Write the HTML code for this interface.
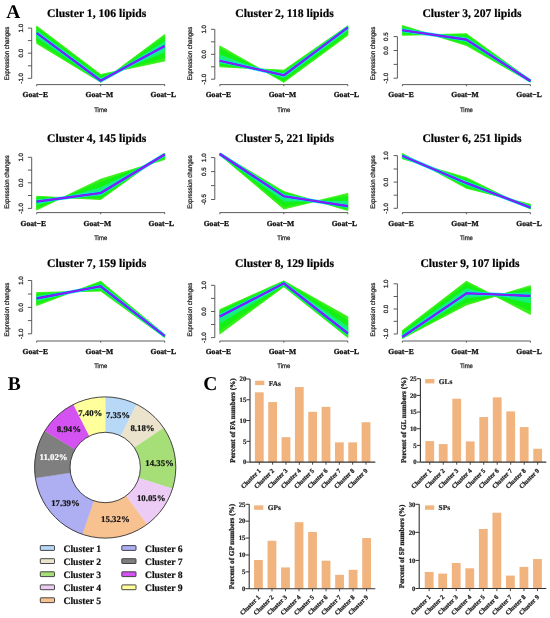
<!DOCTYPE html>
<html><head><meta charset="utf-8"><style>
html,body{margin:0;padding:0;background:#fff;}
svg{display:block;will-change:transform;} text{text-rendering:geometricPrecision;}
</style></head><body>
<svg width="550" height="618" viewBox="0 0 550 618">
<rect width="550" height="618" fill="#fff"/>
<text x="96.7" y="17" text-anchor="middle" font-family='"Liberation Serif", serif' font-weight="bold" font-size="11.7" stroke="#000" stroke-width="0.2">Cluster 1, 106 lipids</text>
<path d="M31.7 28.1V78.3" stroke="#4a4a4a" stroke-width="0.9" fill="none"/>
<path d="M27.9 28.1H31.7" stroke="#4a4a4a" stroke-width="0.9"/>
<text transform="translate(22.7,28.1) rotate(-90)" text-anchor="middle" font-family='"Liberation Sans", sans-serif' font-size="6.2" fill="#222" stroke="#222" stroke-width="0.25">1.0</text>
<path d="M27.9 40.6H31.7" stroke="#4a4a4a" stroke-width="0.9"/>
<path d="M27.9 53.2H31.7" stroke="#4a4a4a" stroke-width="0.9"/>
<text transform="translate(22.7,53.2) rotate(-90)" text-anchor="middle" font-family='"Liberation Sans", sans-serif' font-size="6.2" fill="#222" stroke="#222" stroke-width="0.25">0.0</text>
<path d="M27.9 65.8H31.7" stroke="#4a4a4a" stroke-width="0.9"/>
<path d="M27.9 78.3H31.7" stroke="#4a4a4a" stroke-width="0.9"/>
<text transform="translate(22.7,78.3) rotate(-90)" text-anchor="middle" font-family='"Liberation Sans", sans-serif' font-size="6.2" fill="#222" stroke="#222" stroke-width="0.25">-1.0</text>
<text transform="translate(9.3,53.5) rotate(-90)" text-anchor="middle" font-family='"Liberation Sans", sans-serif' font-size="6.5" textLength="53.7" lengthAdjust="spacingAndGlyphs" fill="#222" stroke="#222" stroke-width="0.25">Expression changes</text>
<path d="M36.7 84.6H164.7" stroke="#4a4a4a" stroke-width="0.9"/>
<path d="M36.7 84.6V86.2" stroke="#4a4a4a" stroke-width="0.9"/>
<path d="M100.7 84.6V86.2" stroke="#4a4a4a" stroke-width="0.9"/>
<path d="M164.7 84.6V86.2" stroke="#4a4a4a" stroke-width="0.9"/>
<text x="35.3" y="97.1" text-anchor="middle" font-family='"Liberation Serif", serif' font-weight="bold" font-size="7.6" fill="#111" stroke="#111" stroke-width="0.28">Goat&#8722;E</text>
<text x="99.3" y="97.1" text-anchor="middle" font-family='"Liberation Serif", serif' font-weight="bold" font-size="7.6" fill="#111" stroke="#111" stroke-width="0.28">Goat&#8722;M</text>
<text x="163.3" y="97.1" text-anchor="middle" font-family='"Liberation Serif", serif' font-weight="bold" font-size="7.6" fill="#111" stroke="#111" stroke-width="0.28">Goat&#8722;L</text>
<text x="100.7" y="112.2" text-anchor="middle" font-family='"Liberation Sans", sans-serif' font-size="6.5" textLength="13" lengthAdjust="spacingAndGlyphs" fill="#222" stroke="#222" stroke-width="0.25">Time</text>
<path d="M36.7 26.1 L100.7 74.5 L100.7 82.2 L36.7 43.5Z" fill="#38f018" stroke="#38f018" stroke-width="0.9" stroke-linejoin="round"/>
<path d="M100.7 74.5 L164.7 61 L164.7 34.5 L100.7 82.2Z" fill="#38f018" stroke="#38f018" stroke-width="0.9" stroke-linejoin="round"/>
<path d="M36.7 27.48 L100.7 75.74 L100.7 81.9 L36.7 41.4Z" fill="#14f014" stroke="#14f014" stroke-width="0.4" stroke-linejoin="round"/>
<path d="M100.7 75.74 L164.7 58 L164.7 36.8 L100.7 81.9Z" fill="#14f014" stroke="#14f014" stroke-width="0.4" stroke-linejoin="round"/>
<path d="M36.7 30.24 L100.7 78.22 L100.7 81.3 L36.7 37.2Z" fill="#18f07c" stroke="#18f07c" stroke-width="0.4" stroke-linejoin="round"/>
<path d="M100.7 78.22 L164.7 52 L164.7 41.4 L100.7 81.3Z" fill="#18f07c" stroke="#18f07c" stroke-width="0.4" stroke-linejoin="round"/>
<path d="M36.7 33 L100.7 80.7 L164.7 46" fill="none" stroke="#10e0f0" stroke-width="3.4" stroke-linejoin="round"/>
<path d="M36.7 33 L100.7 80.7 L164.7 46" fill="none" stroke="#2430ff" stroke-width="2.1" stroke-linejoin="round"/>
<path d="M36.7 33 L100.7 80.7 L164.7 46" fill="none" stroke="#9818f0" stroke-width="1.5" stroke-linejoin="round"/>
<text x="284.6" y="17" text-anchor="middle" font-family='"Liberation Serif", serif' font-weight="bold" font-size="11.7" stroke="#000" stroke-width="0.2">Cluster 2, 118 lipids</text>
<path d="M214.8 29.3V79.2" stroke="#4a4a4a" stroke-width="0.9" fill="none"/>
<path d="M211 29.3H214.8" stroke="#4a4a4a" stroke-width="0.9"/>
<text transform="translate(205.8,29.3) rotate(-90)" text-anchor="middle" font-family='"Liberation Sans", sans-serif' font-size="6.2" fill="#222" stroke="#222" stroke-width="0.25">1.0</text>
<path d="M211 41.8H214.8" stroke="#4a4a4a" stroke-width="0.9"/>
<path d="M211 54.3H214.8" stroke="#4a4a4a" stroke-width="0.9"/>
<text transform="translate(205.8,54.3) rotate(-90)" text-anchor="middle" font-family='"Liberation Sans", sans-serif' font-size="6.2" fill="#222" stroke="#222" stroke-width="0.25">0.0</text>
<path d="M211 66.8H214.8" stroke="#4a4a4a" stroke-width="0.9"/>
<path d="M211 79.2H214.8" stroke="#4a4a4a" stroke-width="0.9"/>
<text transform="translate(205.8,79.2) rotate(-90)" text-anchor="middle" font-family='"Liberation Sans", sans-serif' font-size="6.2" fill="#222" stroke="#222" stroke-width="0.25">-1.0</text>
<text transform="translate(192.4,53.5) rotate(-90)" text-anchor="middle" font-family='"Liberation Sans", sans-serif' font-size="6.5" textLength="53.7" lengthAdjust="spacingAndGlyphs" fill="#222" stroke="#222" stroke-width="0.25">Expression changes</text>
<path d="M219.8 84.6H347.8" stroke="#4a4a4a" stroke-width="0.9"/>
<path d="M219.8 84.6V86.2" stroke="#4a4a4a" stroke-width="0.9"/>
<path d="M283.8 84.6V86.2" stroke="#4a4a4a" stroke-width="0.9"/>
<path d="M347.8 84.6V86.2" stroke="#4a4a4a" stroke-width="0.9"/>
<text x="218.4" y="97.1" text-anchor="middle" font-family='"Liberation Serif", serif' font-weight="bold" font-size="7.6" fill="#111" stroke="#111" stroke-width="0.28">Goat&#8722;E</text>
<text x="282.4" y="97.1" text-anchor="middle" font-family='"Liberation Serif", serif' font-weight="bold" font-size="7.6" fill="#111" stroke="#111" stroke-width="0.28">Goat&#8722;M</text>
<text x="346.4" y="97.1" text-anchor="middle" font-family='"Liberation Serif", serif' font-weight="bold" font-size="7.6" fill="#111" stroke="#111" stroke-width="0.28">Goat&#8722;L</text>
<text x="283.8" y="112.2" text-anchor="middle" font-family='"Liberation Sans", sans-serif' font-size="6.5" textLength="13" lengthAdjust="spacingAndGlyphs" fill="#222" stroke="#222" stroke-width="0.25">Time</text>
<path d="M219.8 45.9 L283.8 82.3 L283.8 70.2 L219.8 66.8Z" fill="#38f018" stroke="#38f018" stroke-width="0.9" stroke-linejoin="round"/>
<path d="M283.8 82.3 L347.8 35.3 L347.8 25.8 L283.8 70.2Z" fill="#38f018" stroke="#38f018" stroke-width="0.9" stroke-linejoin="round"/>
<path d="M219.8 48.86 L283.8 80.9 L283.8 71.22 L219.8 65.58Z" fill="#14f014" stroke="#14f014" stroke-width="0.4" stroke-linejoin="round"/>
<path d="M283.8 80.9 L347.8 33.74 L347.8 26.14 L283.8 71.22Z" fill="#14f014" stroke="#14f014" stroke-width="0.4" stroke-linejoin="round"/>
<path d="M219.8 54.78 L283.8 78.1 L283.8 73.26 L219.8 63.14Z" fill="#18f07c" stroke="#18f07c" stroke-width="0.4" stroke-linejoin="round"/>
<path d="M283.8 78.1 L347.8 30.62 L347.8 26.82 L283.8 73.26Z" fill="#18f07c" stroke="#18f07c" stroke-width="0.4" stroke-linejoin="round"/>
<path d="M219.8 60.7 L283.8 75.3 L347.8 27.5" fill="none" stroke="#10e0f0" stroke-width="3.4" stroke-linejoin="round"/>
<path d="M219.8 60.7 L283.8 75.3 L347.8 27.5" fill="none" stroke="#2430ff" stroke-width="2.1" stroke-linejoin="round"/>
<path d="M219.8 60.7 L283.8 75.3 L347.8 27.5" fill="none" stroke="#9818f0" stroke-width="1.5" stroke-linejoin="round"/>
<text x="472" y="17" text-anchor="middle" font-family='"Liberation Serif", serif' font-weight="bold" font-size="11.7" stroke="#000" stroke-width="0.2">Cluster 3, 207 lipids</text>
<path d="M397.4 36.6V78.2" stroke="#4a4a4a" stroke-width="0.9" fill="none"/>
<path d="M393.6 36.6H397.4" stroke="#4a4a4a" stroke-width="0.9"/>
<text transform="translate(388.4,36.6) rotate(-90)" text-anchor="middle" font-family='"Liberation Sans", sans-serif' font-size="6.2" fill="#222" stroke="#222" stroke-width="0.25">0.5</text>
<path d="M393.6 50.5H397.4" stroke="#4a4a4a" stroke-width="0.9"/>
<text transform="translate(388.4,50.5) rotate(-90)" text-anchor="middle" font-family='"Liberation Sans", sans-serif' font-size="6.2" fill="#222" stroke="#222" stroke-width="0.25">0.0</text>
<path d="M393.6 64.4H397.4" stroke="#4a4a4a" stroke-width="0.9"/>
<path d="M393.6 78.2H397.4" stroke="#4a4a4a" stroke-width="0.9"/>
<text transform="translate(388.4,78.2) rotate(-90)" text-anchor="middle" font-family='"Liberation Sans", sans-serif' font-size="6.2" fill="#222" stroke="#222" stroke-width="0.25">-1.0</text>
<text transform="translate(375,53.5) rotate(-90)" text-anchor="middle" font-family='"Liberation Sans", sans-serif' font-size="6.5" textLength="53.7" lengthAdjust="spacingAndGlyphs" fill="#222" stroke="#222" stroke-width="0.25">Expression changes</text>
<path d="M402.4 84.6H530.4" stroke="#4a4a4a" stroke-width="0.9"/>
<path d="M402.4 84.6V86.2" stroke="#4a4a4a" stroke-width="0.9"/>
<path d="M466.4 84.6V86.2" stroke="#4a4a4a" stroke-width="0.9"/>
<path d="M530.4 84.6V86.2" stroke="#4a4a4a" stroke-width="0.9"/>
<text x="401" y="97.1" text-anchor="middle" font-family='"Liberation Serif", serif' font-weight="bold" font-size="7.6" fill="#111" stroke="#111" stroke-width="0.28">Goat&#8722;E</text>
<text x="465" y="97.1" text-anchor="middle" font-family='"Liberation Serif", serif' font-weight="bold" font-size="7.6" fill="#111" stroke="#111" stroke-width="0.28">Goat&#8722;M</text>
<text x="529" y="97.1" text-anchor="middle" font-family='"Liberation Serif", serif' font-weight="bold" font-size="7.6" fill="#111" stroke="#111" stroke-width="0.28">Goat&#8722;L</text>
<text x="466.4" y="112.2" text-anchor="middle" font-family='"Liberation Sans", sans-serif' font-size="6.5" textLength="13" lengthAdjust="spacingAndGlyphs" fill="#222" stroke="#222" stroke-width="0.25">Time</text>
<path d="M402.4 25.5 L466.4 45.5 L466.4 33.8 L402.4 35.3Z" fill="#38f018" stroke="#38f018" stroke-width="0.9" stroke-linejoin="round"/>
<path d="M466.4 45.5 L530.4 82 L530.4 80 L466.4 33.8Z" fill="#38f018" stroke="#38f018" stroke-width="0.9" stroke-linejoin="round"/>
<path d="M402.4 26.44 L466.4 44.32 L466.4 34.96 L402.4 34.28Z" fill="#14f014" stroke="#14f014" stroke-width="0.4" stroke-linejoin="round"/>
<path d="M466.4 44.32 L530.4 81.8 L530.4 80.2 L466.4 34.96Z" fill="#14f014" stroke="#14f014" stroke-width="0.4" stroke-linejoin="round"/>
<path d="M402.4 28.32 L466.4 41.96 L466.4 37.28 L402.4 32.24Z" fill="#18f07c" stroke="#18f07c" stroke-width="0.4" stroke-linejoin="round"/>
<path d="M466.4 41.96 L530.4 81.4 L530.4 80.6 L466.4 37.28Z" fill="#18f07c" stroke="#18f07c" stroke-width="0.4" stroke-linejoin="round"/>
<path d="M402.4 30.2 L466.4 39.6 L530.4 81" fill="none" stroke="#10e0f0" stroke-width="3.4" stroke-linejoin="round"/>
<path d="M402.4 30.2 L466.4 39.6 L530.4 81" fill="none" stroke="#2430ff" stroke-width="2.1" stroke-linejoin="round"/>
<path d="M402.4 30.2 L466.4 39.6 L530.4 81" fill="none" stroke="#9818f0" stroke-width="1.5" stroke-linejoin="round"/>
<text x="96.7" y="142" text-anchor="middle" font-family='"Liberation Serif", serif' font-weight="bold" font-size="11.7" stroke="#000" stroke-width="0.2">Cluster 4, 145 lipids</text>
<path d="M31.7 157.3V208.4" stroke="#4a4a4a" stroke-width="0.9" fill="none"/>
<path d="M27.9 157.3H31.7" stroke="#4a4a4a" stroke-width="0.9"/>
<text transform="translate(22.7,157.3) rotate(-90)" text-anchor="middle" font-family='"Liberation Sans", sans-serif' font-size="6.2" fill="#222" stroke="#222" stroke-width="0.25">1.0</text>
<path d="M27.9 170.1H31.7" stroke="#4a4a4a" stroke-width="0.9"/>
<path d="M27.9 182.8H31.7" stroke="#4a4a4a" stroke-width="0.9"/>
<text transform="translate(22.7,182.8) rotate(-90)" text-anchor="middle" font-family='"Liberation Sans", sans-serif' font-size="6.2" fill="#222" stroke="#222" stroke-width="0.25">0.0</text>
<path d="M27.9 195.5H31.7" stroke="#4a4a4a" stroke-width="0.9"/>
<path d="M27.9 208.4H31.7" stroke="#4a4a4a" stroke-width="0.9"/>
<text transform="translate(22.7,208.4) rotate(-90)" text-anchor="middle" font-family='"Liberation Sans", sans-serif' font-size="6.2" fill="#222" stroke="#222" stroke-width="0.25">-1.0</text>
<text transform="translate(9.3,182) rotate(-90)" text-anchor="middle" font-family='"Liberation Sans", sans-serif' font-size="6.5" textLength="53.7" lengthAdjust="spacingAndGlyphs" fill="#222" stroke="#222" stroke-width="0.25">Expression changes</text>
<path d="M36.7 212.6H164.7" stroke="#4a4a4a" stroke-width="0.9"/>
<path d="M36.7 212.6V214.2" stroke="#4a4a4a" stroke-width="0.9"/>
<path d="M100.7 212.6V214.2" stroke="#4a4a4a" stroke-width="0.9"/>
<path d="M164.7 212.6V214.2" stroke="#4a4a4a" stroke-width="0.9"/>
<text x="33.3" y="225.6" text-anchor="middle" font-family='"Liberation Serif", serif' font-weight="bold" font-size="7.6" fill="#111" stroke="#111" stroke-width="0.28">Goat&#8722;E</text>
<text x="97.3" y="225.6" text-anchor="middle" font-family='"Liberation Serif", serif' font-weight="bold" font-size="7.6" fill="#111" stroke="#111" stroke-width="0.28">Goat&#8722;M</text>
<text x="161.3" y="225.6" text-anchor="middle" font-family='"Liberation Serif", serif' font-weight="bold" font-size="7.6" fill="#111" stroke="#111" stroke-width="0.28">Goat&#8722;L</text>
<text x="100.7" y="240.1" text-anchor="middle" font-family='"Liberation Sans", sans-serif' font-size="6.5" textLength="13" lengthAdjust="spacingAndGlyphs" fill="#222" stroke="#222" stroke-width="0.25">Time</text>
<path d="M36.7 196.3 L100.7 199.5 L100.7 179.2 L36.7 209.9Z" fill="#38f018" stroke="#38f018" stroke-width="0.9" stroke-linejoin="round"/>
<path d="M100.7 199.5 L164.7 153.4 L164.7 159.5 L100.7 179.2Z" fill="#38f018" stroke="#38f018" stroke-width="0.9" stroke-linejoin="round"/>
<path d="M36.7 197.36 L100.7 198.2 L100.7 181.96 L36.7 208.24Z" fill="#14f014" stroke="#14f014" stroke-width="0.4" stroke-linejoin="round"/>
<path d="M100.7 198.2 L164.7 153.62 L164.7 158.5 L100.7 181.96Z" fill="#14f014" stroke="#14f014" stroke-width="0.4" stroke-linejoin="round"/>
<path d="M36.7 199.48 L100.7 195.6 L100.7 187.48 L36.7 204.92Z" fill="#18f07c" stroke="#18f07c" stroke-width="0.4" stroke-linejoin="round"/>
<path d="M100.7 195.6 L164.7 154.06 L164.7 156.5 L100.7 187.48Z" fill="#18f07c" stroke="#18f07c" stroke-width="0.4" stroke-linejoin="round"/>
<path d="M36.7 201.6 L100.7 193 L164.7 154.5" fill="none" stroke="#10e0f0" stroke-width="3.4" stroke-linejoin="round"/>
<path d="M36.7 201.6 L100.7 193 L164.7 154.5" fill="none" stroke="#2430ff" stroke-width="2.1" stroke-linejoin="round"/>
<path d="M36.7 201.6 L100.7 193 L164.7 154.5" fill="none" stroke="#9818f0" stroke-width="1.5" stroke-linejoin="round"/>
<text x="284.6" y="142" text-anchor="middle" font-family='"Liberation Serif", serif' font-weight="bold" font-size="11.7" stroke="#000" stroke-width="0.2">Cluster 5, 221 lipids</text>
<path d="M214.8 157.6V199.5" stroke="#4a4a4a" stroke-width="0.9" fill="none"/>
<path d="M211 157.6H214.8" stroke="#4a4a4a" stroke-width="0.9"/>
<text transform="translate(205.8,157.6) rotate(-90)" text-anchor="middle" font-family='"Liberation Sans", sans-serif' font-size="6.2" fill="#222" stroke="#222" stroke-width="0.25">1.0</text>
<path d="M211 171.6H214.8" stroke="#4a4a4a" stroke-width="0.9"/>
<text transform="translate(205.8,171.6) rotate(-90)" text-anchor="middle" font-family='"Liberation Sans", sans-serif' font-size="6.2" fill="#222" stroke="#222" stroke-width="0.25">0.5</text>
<path d="M211 185.6H214.8" stroke="#4a4a4a" stroke-width="0.9"/>
<path d="M211 199.5H214.8" stroke="#4a4a4a" stroke-width="0.9"/>
<text transform="translate(205.8,199.5) rotate(-90)" text-anchor="middle" font-family='"Liberation Sans", sans-serif' font-size="6.2" fill="#222" stroke="#222" stroke-width="0.25">-0.5</text>
<text transform="translate(192.4,182) rotate(-90)" text-anchor="middle" font-family='"Liberation Sans", sans-serif' font-size="6.5" textLength="53.7" lengthAdjust="spacingAndGlyphs" fill="#222" stroke="#222" stroke-width="0.25">Expression changes</text>
<path d="M219.8 212.6H347.8" stroke="#4a4a4a" stroke-width="0.9"/>
<path d="M219.8 212.6V214.2" stroke="#4a4a4a" stroke-width="0.9"/>
<path d="M283.8 212.6V214.2" stroke="#4a4a4a" stroke-width="0.9"/>
<path d="M347.8 212.6V214.2" stroke="#4a4a4a" stroke-width="0.9"/>
<text x="216.4" y="225.6" text-anchor="middle" font-family='"Liberation Serif", serif' font-weight="bold" font-size="7.6" fill="#111" stroke="#111" stroke-width="0.28">Goat&#8722;E</text>
<text x="280.4" y="225.6" text-anchor="middle" font-family='"Liberation Serif", serif' font-weight="bold" font-size="7.6" fill="#111" stroke="#111" stroke-width="0.28">Goat&#8722;M</text>
<text x="344.4" y="225.6" text-anchor="middle" font-family='"Liberation Serif", serif' font-weight="bold" font-size="7.6" fill="#111" stroke="#111" stroke-width="0.28">Goat&#8722;L</text>
<text x="283.8" y="240.1" text-anchor="middle" font-family='"Liberation Sans", sans-serif' font-size="6.5" textLength="13" lengthAdjust="spacingAndGlyphs" fill="#222" stroke="#222" stroke-width="0.25">Time</text>
<path d="M219.8 153.2 L283.8 191.5 L283.8 209 L219.8 155Z" fill="#38f018" stroke="#38f018" stroke-width="0.9" stroke-linejoin="round"/>
<path d="M283.8 191.5 L347.8 210.5 L347.8 193.4 L283.8 209Z" fill="#38f018" stroke="#38f018" stroke-width="0.9" stroke-linejoin="round"/>
<path d="M219.8 153.36 L283.8 192.44 L283.8 206.44 L219.8 154.8Z" fill="#14f014" stroke="#14f014" stroke-width="0.4" stroke-linejoin="round"/>
<path d="M283.8 192.44 L347.8 209.62 L347.8 195.94 L283.8 206.44Z" fill="#14f014" stroke="#14f014" stroke-width="0.4" stroke-linejoin="round"/>
<path d="M219.8 153.68 L283.8 194.32 L283.8 201.32 L219.8 154.4Z" fill="#18f07c" stroke="#18f07c" stroke-width="0.4" stroke-linejoin="round"/>
<path d="M283.8 194.32 L347.8 207.86 L347.8 201.02 L283.8 201.32Z" fill="#18f07c" stroke="#18f07c" stroke-width="0.4" stroke-linejoin="round"/>
<path d="M219.8 154 L283.8 196.2 L347.8 206.1" fill="none" stroke="#10e0f0" stroke-width="3.4" stroke-linejoin="round"/>
<path d="M219.8 154 L283.8 196.2 L347.8 206.1" fill="none" stroke="#2430ff" stroke-width="2.1" stroke-linejoin="round"/>
<path d="M219.8 154 L283.8 196.2 L347.8 206.1" fill="none" stroke="#9818f0" stroke-width="1.5" stroke-linejoin="round"/>
<text x="472" y="142" text-anchor="middle" font-family='"Liberation Serif", serif' font-weight="bold" font-size="11.7" stroke="#000" stroke-width="0.2">Cluster 6, 251 lipids</text>
<path d="M397.4 155.6V208.3" stroke="#4a4a4a" stroke-width="0.9" fill="none"/>
<path d="M393.6 155.6H397.4" stroke="#4a4a4a" stroke-width="0.9"/>
<text transform="translate(388.4,155.6) rotate(-90)" text-anchor="middle" font-family='"Liberation Sans", sans-serif' font-size="6.2" fill="#222" stroke="#222" stroke-width="0.25">1.0</text>
<path d="M393.6 169H397.4" stroke="#4a4a4a" stroke-width="0.9"/>
<path d="M393.6 182.1H397.4" stroke="#4a4a4a" stroke-width="0.9"/>
<text transform="translate(388.4,182.1) rotate(-90)" text-anchor="middle" font-family='"Liberation Sans", sans-serif' font-size="6.2" fill="#222" stroke="#222" stroke-width="0.25">0.0</text>
<path d="M393.6 195.2H397.4" stroke="#4a4a4a" stroke-width="0.9"/>
<path d="M393.6 208.3H397.4" stroke="#4a4a4a" stroke-width="0.9"/>
<text transform="translate(388.4,208.3) rotate(-90)" text-anchor="middle" font-family='"Liberation Sans", sans-serif' font-size="6.2" fill="#222" stroke="#222" stroke-width="0.25">-1.0</text>
<text transform="translate(375,182) rotate(-90)" text-anchor="middle" font-family='"Liberation Sans", sans-serif' font-size="6.5" textLength="53.7" lengthAdjust="spacingAndGlyphs" fill="#222" stroke="#222" stroke-width="0.25">Expression changes</text>
<path d="M402.4 212.6H530.4" stroke="#4a4a4a" stroke-width="0.9"/>
<path d="M402.4 212.6V214.2" stroke="#4a4a4a" stroke-width="0.9"/>
<path d="M466.4 212.6V214.2" stroke="#4a4a4a" stroke-width="0.9"/>
<path d="M530.4 212.6V214.2" stroke="#4a4a4a" stroke-width="0.9"/>
<text x="401" y="225.6" text-anchor="middle" font-family='"Liberation Serif", serif' font-weight="bold" font-size="7.6" fill="#111" stroke="#111" stroke-width="0.28">Goat&#8722;E</text>
<text x="465" y="225.6" text-anchor="middle" font-family='"Liberation Serif", serif' font-weight="bold" font-size="7.6" fill="#111" stroke="#111" stroke-width="0.28">Goat&#8722;M</text>
<text x="529" y="225.6" text-anchor="middle" font-family='"Liberation Serif", serif' font-weight="bold" font-size="7.6" fill="#111" stroke="#111" stroke-width="0.28">Goat&#8722;L</text>
<text x="466.4" y="240.1" text-anchor="middle" font-family='"Liberation Sans", sans-serif' font-size="6.5" textLength="13" lengthAdjust="spacingAndGlyphs" fill="#222" stroke="#222" stroke-width="0.25">Time</text>
<path d="M402.4 153.4 L466.4 188.3 L466.4 177.7 L402.4 158.8Z" fill="#38f018" stroke="#38f018" stroke-width="0.9" stroke-linejoin="round"/>
<path d="M466.4 188.3 L530.4 204.3 L530.4 209 L466.4 177.7Z" fill="#38f018" stroke="#38f018" stroke-width="0.9" stroke-linejoin="round"/>
<path d="M402.4 153.9 L466.4 187.26 L466.4 178.78 L402.4 158.22Z" fill="#14f014" stroke="#14f014" stroke-width="0.4" stroke-linejoin="round"/>
<path d="M466.4 187.26 L530.4 204.94 L530.4 208.7 L466.4 178.78Z" fill="#14f014" stroke="#14f014" stroke-width="0.4" stroke-linejoin="round"/>
<path d="M402.4 154.9 L466.4 185.18 L466.4 180.94 L402.4 157.06Z" fill="#18f07c" stroke="#18f07c" stroke-width="0.4" stroke-linejoin="round"/>
<path d="M466.4 185.18 L530.4 206.22 L530.4 208.1 L466.4 180.94Z" fill="#18f07c" stroke="#18f07c" stroke-width="0.4" stroke-linejoin="round"/>
<path d="M402.4 155.9 L466.4 183.1 L530.4 207.5" fill="none" stroke="#10e0f0" stroke-width="3.4" stroke-linejoin="round"/>
<path d="M402.4 155.9 L466.4 183.1 L530.4 207.5" fill="none" stroke="#2430ff" stroke-width="2.1" stroke-linejoin="round"/>
<path d="M402.4 155.9 L466.4 183.1 L530.4 207.5" fill="none" stroke="#9818f0" stroke-width="1.5" stroke-linejoin="round"/>
<text x="96.7" y="267" text-anchor="middle" font-family='"Liberation Serif", serif' font-weight="bold" font-size="11.7" stroke="#000" stroke-width="0.2">Cluster 7, 159 lipids</text>
<path d="M31.7 280.5V333.8" stroke="#4a4a4a" stroke-width="0.9" fill="none"/>
<path d="M27.9 280.5H31.7" stroke="#4a4a4a" stroke-width="0.9"/>
<text transform="translate(22.7,280.5) rotate(-90)" text-anchor="middle" font-family='"Liberation Sans", sans-serif' font-size="6.2" fill="#222" stroke="#222" stroke-width="0.25">1.0</text>
<path d="M27.9 294H31.7" stroke="#4a4a4a" stroke-width="0.9"/>
<path d="M27.9 307.4H31.7" stroke="#4a4a4a" stroke-width="0.9"/>
<text transform="translate(22.7,307.4) rotate(-90)" text-anchor="middle" font-family='"Liberation Sans", sans-serif' font-size="6.2" fill="#222" stroke="#222" stroke-width="0.25">0.0</text>
<path d="M27.9 320.6H31.7" stroke="#4a4a4a" stroke-width="0.9"/>
<path d="M27.9 333.8H31.7" stroke="#4a4a4a" stroke-width="0.9"/>
<text transform="translate(22.7,333.8) rotate(-90)" text-anchor="middle" font-family='"Liberation Sans", sans-serif' font-size="6.2" fill="#222" stroke="#222" stroke-width="0.25">-1.0</text>
<text transform="translate(9.3,309.6) rotate(-90)" text-anchor="middle" font-family='"Liberation Sans", sans-serif' font-size="6.5" textLength="53.7" lengthAdjust="spacingAndGlyphs" fill="#222" stroke="#222" stroke-width="0.25">Expression changes</text>
<path d="M36.7 341H164.7" stroke="#4a4a4a" stroke-width="0.9"/>
<path d="M36.7 341V342.6" stroke="#4a4a4a" stroke-width="0.9"/>
<path d="M100.7 341V342.6" stroke="#4a4a4a" stroke-width="0.9"/>
<path d="M164.7 341V342.6" stroke="#4a4a4a" stroke-width="0.9"/>
<text x="35.3" y="353.8" text-anchor="middle" font-family='"Liberation Serif", serif' font-weight="bold" font-size="7.6" fill="#111" stroke="#111" stroke-width="0.28">Goat&#8722;E</text>
<text x="99.3" y="353.8" text-anchor="middle" font-family='"Liberation Serif", serif' font-weight="bold" font-size="7.6" fill="#111" stroke="#111" stroke-width="0.28">Goat&#8722;M</text>
<text x="163.3" y="353.8" text-anchor="middle" font-family='"Liberation Serif", serif' font-weight="bold" font-size="7.6" fill="#111" stroke="#111" stroke-width="0.28">Goat&#8722;L</text>
<text x="100.7" y="368" text-anchor="middle" font-family='"Liberation Sans", sans-serif' font-size="6.5" textLength="13" lengthAdjust="spacingAndGlyphs" fill="#222" stroke="#222" stroke-width="0.25">Time</text>
<path d="M36.7 292.5 L100.7 291.1 L100.7 281.3 L36.7 305.6Z" fill="#38f018" stroke="#38f018" stroke-width="0.9" stroke-linejoin="round"/>
<path d="M100.7 291.1 L164.7 337.5 L164.7 334.5 L100.7 281.3Z" fill="#38f018" stroke="#38f018" stroke-width="0.9" stroke-linejoin="round"/>
<path d="M36.7 293.68 L100.7 290.14 L100.7 282.3 L36.7 304.16Z" fill="#14f014" stroke="#14f014" stroke-width="0.4" stroke-linejoin="round"/>
<path d="M100.7 290.14 L164.7 337.2 L164.7 334.8 L100.7 282.3Z" fill="#14f014" stroke="#14f014" stroke-width="0.4" stroke-linejoin="round"/>
<path d="M36.7 296.04 L100.7 288.22 L100.7 284.3 L36.7 301.28Z" fill="#18f07c" stroke="#18f07c" stroke-width="0.4" stroke-linejoin="round"/>
<path d="M100.7 288.22 L164.7 336.6 L164.7 335.4 L100.7 284.3Z" fill="#18f07c" stroke="#18f07c" stroke-width="0.4" stroke-linejoin="round"/>
<path d="M36.7 298.4 L100.7 286.3 L164.7 336" fill="none" stroke="#10e0f0" stroke-width="3.4" stroke-linejoin="round"/>
<path d="M36.7 298.4 L100.7 286.3 L164.7 336" fill="none" stroke="#2430ff" stroke-width="2.1" stroke-linejoin="round"/>
<path d="M36.7 298.4 L100.7 286.3 L164.7 336" fill="none" stroke="#9818f0" stroke-width="1.5" stroke-linejoin="round"/>
<text x="284.6" y="267" text-anchor="middle" font-family='"Liberation Serif", serif' font-weight="bold" font-size="11.7" stroke="#000" stroke-width="0.2">Cluster 8, 129 lipids</text>
<path d="M214.8 285.3V337.6" stroke="#4a4a4a" stroke-width="0.9" fill="none"/>
<path d="M211 285.3H214.8" stroke="#4a4a4a" stroke-width="0.9"/>
<text transform="translate(205.8,285.3) rotate(-90)" text-anchor="middle" font-family='"Liberation Sans", sans-serif' font-size="6.2" fill="#222" stroke="#222" stroke-width="0.25">1.0</text>
<path d="M211 298.4H214.8" stroke="#4a4a4a" stroke-width="0.9"/>
<path d="M211 311.5H214.8" stroke="#4a4a4a" stroke-width="0.9"/>
<text transform="translate(205.8,311.5) rotate(-90)" text-anchor="middle" font-family='"Liberation Sans", sans-serif' font-size="6.2" fill="#222" stroke="#222" stroke-width="0.25">0.0</text>
<path d="M211 324.5H214.8" stroke="#4a4a4a" stroke-width="0.9"/>
<path d="M211 337.6H214.8" stroke="#4a4a4a" stroke-width="0.9"/>
<text transform="translate(205.8,337.6) rotate(-90)" text-anchor="middle" font-family='"Liberation Sans", sans-serif' font-size="6.2" fill="#222" stroke="#222" stroke-width="0.25">-1.0</text>
<text transform="translate(192.4,309.6) rotate(-90)" text-anchor="middle" font-family='"Liberation Sans", sans-serif' font-size="6.5" textLength="53.7" lengthAdjust="spacingAndGlyphs" fill="#222" stroke="#222" stroke-width="0.25">Expression changes</text>
<path d="M219.8 341H347.8" stroke="#4a4a4a" stroke-width="0.9"/>
<path d="M219.8 341V342.6" stroke="#4a4a4a" stroke-width="0.9"/>
<path d="M283.8 341V342.6" stroke="#4a4a4a" stroke-width="0.9"/>
<path d="M347.8 341V342.6" stroke="#4a4a4a" stroke-width="0.9"/>
<text x="218.4" y="353.8" text-anchor="middle" font-family='"Liberation Serif", serif' font-weight="bold" font-size="7.6" fill="#111" stroke="#111" stroke-width="0.28">Goat&#8722;E</text>
<text x="282.4" y="353.8" text-anchor="middle" font-family='"Liberation Serif", serif' font-weight="bold" font-size="7.6" fill="#111" stroke="#111" stroke-width="0.28">Goat&#8722;M</text>
<text x="346.4" y="353.8" text-anchor="middle" font-family='"Liberation Serif", serif' font-weight="bold" font-size="7.6" fill="#111" stroke="#111" stroke-width="0.28">Goat&#8722;L</text>
<text x="283.8" y="368" text-anchor="middle" font-family='"Liberation Sans", sans-serif' font-size="6.5" textLength="13" lengthAdjust="spacingAndGlyphs" fill="#222" stroke="#222" stroke-width="0.25">Time</text>
<path d="M219.8 309.6 L283.8 280.9 L283.8 286.7 L219.8 334Z" fill="#38f018" stroke="#38f018" stroke-width="0.9" stroke-linejoin="round"/>
<path d="M283.8 280.9 L347.8 316.8 L347.8 337.6 L283.8 286.7Z" fill="#38f018" stroke="#38f018" stroke-width="0.9" stroke-linejoin="round"/>
<path d="M219.8 310.98 L283.8 281.4 L283.8 286.04 L219.8 330.5Z" fill="#14f014" stroke="#14f014" stroke-width="0.4" stroke-linejoin="round"/>
<path d="M283.8 281.4 L347.8 320.1 L347.8 336.74 L283.8 286.04Z" fill="#14f014" stroke="#14f014" stroke-width="0.4" stroke-linejoin="round"/>
<path d="M219.8 313.74 L283.8 282.4 L283.8 284.72 L219.8 323.5Z" fill="#18f07c" stroke="#18f07c" stroke-width="0.4" stroke-linejoin="round"/>
<path d="M283.8 282.4 L347.8 326.7 L347.8 335.02 L283.8 284.72Z" fill="#18f07c" stroke="#18f07c" stroke-width="0.4" stroke-linejoin="round"/>
<path d="M219.8 316.5 L283.8 283.4 L347.8 333.3" fill="none" stroke="#10e0f0" stroke-width="3.4" stroke-linejoin="round"/>
<path d="M219.8 316.5 L283.8 283.4 L347.8 333.3" fill="none" stroke="#2430ff" stroke-width="2.1" stroke-linejoin="round"/>
<path d="M219.8 316.5 L283.8 283.4 L347.8 333.3" fill="none" stroke="#9818f0" stroke-width="1.5" stroke-linejoin="round"/>
<text x="470" y="267" text-anchor="middle" font-family='"Liberation Serif", serif' font-weight="bold" font-size="11.7" stroke="#000" stroke-width="0.2">Cluster 9, 107 lipids</text>
<path d="M397.4 283.8V334" stroke="#4a4a4a" stroke-width="0.9" fill="none"/>
<path d="M393.6 283.8H397.4" stroke="#4a4a4a" stroke-width="0.9"/>
<text transform="translate(388.4,283.8) rotate(-90)" text-anchor="middle" font-family='"Liberation Sans", sans-serif' font-size="6.2" fill="#222" stroke="#222" stroke-width="0.25">1.0</text>
<path d="M393.6 296.5H397.4" stroke="#4a4a4a" stroke-width="0.9"/>
<path d="M393.6 309H397.4" stroke="#4a4a4a" stroke-width="0.9"/>
<text transform="translate(388.4,309) rotate(-90)" text-anchor="middle" font-family='"Liberation Sans", sans-serif' font-size="6.2" fill="#222" stroke="#222" stroke-width="0.25">0.0</text>
<path d="M393.6 321.3H397.4" stroke="#4a4a4a" stroke-width="0.9"/>
<path d="M393.6 334H397.4" stroke="#4a4a4a" stroke-width="0.9"/>
<text transform="translate(388.4,334) rotate(-90)" text-anchor="middle" font-family='"Liberation Sans", sans-serif' font-size="6.2" fill="#222" stroke="#222" stroke-width="0.25">-1.0</text>
<text transform="translate(375,309.6) rotate(-90)" text-anchor="middle" font-family='"Liberation Sans", sans-serif' font-size="6.5" textLength="53.7" lengthAdjust="spacingAndGlyphs" fill="#222" stroke="#222" stroke-width="0.25">Expression changes</text>
<path d="M402.4 341H530.4" stroke="#4a4a4a" stroke-width="0.9"/>
<path d="M402.4 341V342.6" stroke="#4a4a4a" stroke-width="0.9"/>
<path d="M466.4 341V342.6" stroke="#4a4a4a" stroke-width="0.9"/>
<path d="M530.4 341V342.6" stroke="#4a4a4a" stroke-width="0.9"/>
<text x="401" y="353.8" text-anchor="middle" font-family='"Liberation Serif", serif' font-weight="bold" font-size="7.6" fill="#111" stroke="#111" stroke-width="0.28">Goat&#8722;E</text>
<text x="465" y="353.8" text-anchor="middle" font-family='"Liberation Serif", serif' font-weight="bold" font-size="7.6" fill="#111" stroke="#111" stroke-width="0.28">Goat&#8722;M</text>
<text x="529" y="353.8" text-anchor="middle" font-family='"Liberation Serif", serif' font-weight="bold" font-size="7.6" fill="#111" stroke="#111" stroke-width="0.28">Goat&#8722;L</text>
<text x="466.4" y="368" text-anchor="middle" font-family='"Liberation Sans", sans-serif' font-size="6.5" textLength="13" lengthAdjust="spacingAndGlyphs" fill="#222" stroke="#222" stroke-width="0.25">Time</text>
<path d="M402.4 330.4 L466.4 281.3 L466.4 304.9 L402.4 338.4Z" fill="#38f018" stroke="#38f018" stroke-width="0.9" stroke-linejoin="round"/>
<path d="M466.4 281.3 L530.4 314.4 L530.4 285.7 L466.4 304.9Z" fill="#38f018" stroke="#38f018" stroke-width="0.9" stroke-linejoin="round"/>
<path d="M402.4 331.7 L466.4 283.7 L466.4 302.58 L402.4 338.1Z" fill="#14f014" stroke="#14f014" stroke-width="0.4" stroke-linejoin="round"/>
<path d="M466.4 283.7 L530.4 310.7 L530.4 287.74 L466.4 302.58Z" fill="#14f014" stroke="#14f014" stroke-width="0.4" stroke-linejoin="round"/>
<path d="M402.4 334.3 L466.4 288.5 L466.4 297.94 L402.4 337.5Z" fill="#18f07c" stroke="#18f07c" stroke-width="0.4" stroke-linejoin="round"/>
<path d="M466.4 288.5 L530.4 303.3 L530.4 291.82 L466.4 297.94Z" fill="#18f07c" stroke="#18f07c" stroke-width="0.4" stroke-linejoin="round"/>
<path d="M402.4 336.9 L466.4 293.3 L530.4 295.9" fill="none" stroke="#10e0f0" stroke-width="3.4" stroke-linejoin="round"/>
<path d="M402.4 336.9 L466.4 293.3 L530.4 295.9" fill="none" stroke="#2430ff" stroke-width="2.1" stroke-linejoin="round"/>
<path d="M402.4 336.9 L466.4 293.3 L530.4 295.9" fill="none" stroke="#9818f0" stroke-width="1.5" stroke-linejoin="round"/>
<text x="6.3" y="18.2" font-family='"Liberation Serif", serif' font-weight="bold" font-size="19.5">A</text>
<text x="7.8" y="390.2" font-family='"Liberation Serif", serif' font-weight="bold" font-size="19.5">B</text>
<text x="203.2" y="390.4" font-family='"Liberation Serif", serif' font-weight="bold" font-size="19.5">C</text>
<path d="M105.2 396.9 A70.6 70.6 0 0 1 136.66 404.3 L120.88 435.99 A35.2 35.2 0 0 0 105.2 432.3Z" fill="#b8d8f8" stroke="#b8d8f8" stroke-width="0.3"/>
<path d="M136.66 404.3 A70.6 70.6 0 0 1 163.67 427.93 L134.35 447.77 A35.2 35.2 0 0 0 120.88 435.99Z" fill="#ebe3cc" stroke="#ebe3cc" stroke-width="0.3"/>
<path d="M163.67 427.93 A70.6 70.6 0 0 1 172.51 488.81 L138.76 478.12 A35.2 35.2 0 0 0 134.35 447.77Z" fill="#a6de78" stroke="#a6de78" stroke-width="0.3"/>
<path d="M172.51 488.81 A70.6 70.6 0 0 1 146.95 524.43 L126.02 495.89 A35.2 35.2 0 0 0 138.76 478.12Z" fill="#ecccf4" stroke="#ecccf4" stroke-width="0.3"/>
<path d="M146.95 524.43 A70.6 70.6 0 0 1 82.33 534.29 L93.8 500.8 A35.2 35.2 0 0 0 126.02 495.89Z" fill="#f8c290" stroke="#f8c290" stroke-width="0.3"/>
<path d="M82.33 534.29 A70.6 70.6 0 0 1 35.37 477.93 L70.39 472.7 A35.2 35.2 0 0 0 93.8 500.8Z" fill="#aeaef2" stroke="#aeaef2" stroke-width="0.3"/>
<path d="M35.37 477.93 A70.6 70.6 0 0 1 44.8 430.95 L75.08 449.28 A35.2 35.2 0 0 0 70.39 472.7Z" fill="#7f7f7f" stroke="#7f7f7f" stroke-width="0.3"/>
<path d="M44.8 430.95 A70.6 70.6 0 0 1 73.54 404.39 L89.42 436.04 A35.2 35.2 0 0 0 75.08 449.28Z" fill="#d452f2" stroke="#d452f2" stroke-width="0.3"/>
<path d="M73.54 404.39 A70.6 70.6 0 0 1 105.2 396.9 L105.2 432.3 A35.2 35.2 0 0 0 89.42 436.04Z" fill="#ffff9c" stroke="#ffff9c" stroke-width="0.3"/>
<circle cx="105.2" cy="467.5" r="70.6" fill="none" stroke="#333" stroke-width="0.9"/>
<circle cx="105.2" cy="467.5" r="35.2" fill="none" stroke="#333" stroke-width="0.9"/>
<text x="118" y="418.1" text-anchor="middle" font-family='"Liberation Serif", serif' font-weight="bold" font-size="8.8" fill="#111" stroke="#111" stroke-width="0.2">7.35%</text>
<text x="142.5" y="431.2" text-anchor="middle" font-family='"Liberation Serif", serif' font-weight="bold" font-size="8.8" fill="#111" stroke="#111" stroke-width="0.2">8.18%</text>
<text x="159.6" y="465.6" text-anchor="middle" font-family='"Liberation Serif", serif' font-weight="bold" font-size="8.8" fill="#111" stroke="#111" stroke-width="0.2">14.35%</text>
<text x="151.2" y="500.7" text-anchor="middle" font-family='"Liberation Serif", serif' font-weight="bold" font-size="8.8" fill="#111" stroke="#111" stroke-width="0.2">10.05%</text>
<text x="115.4" y="521.6" text-anchor="middle" font-family='"Liberation Serif", serif' font-weight="bold" font-size="8.8" fill="#111" stroke="#111" stroke-width="0.2">15.32%</text>
<text x="65.5" y="506.3" text-anchor="middle" font-family='"Liberation Serif", serif' font-weight="bold" font-size="8.8" fill="#111" stroke="#111" stroke-width="0.2">17.39%</text>
<text x="53.6" y="459.6" text-anchor="middle" font-family='"Liberation Serif", serif' font-weight="bold" font-size="8.8" fill="#fff" stroke="#fff" stroke-width="0.2">11.02%</text>
<text x="68.9" y="431.6" text-anchor="middle" font-family='"Liberation Serif", serif' font-weight="bold" font-size="8.8" fill="#111" stroke="#111" stroke-width="0.2">8.94%</text>
<text x="90.3" y="416.2" text-anchor="middle" font-family='"Liberation Serif", serif' font-weight="bold" font-size="8.8" fill="#111" stroke="#111" stroke-width="0.2">7.40%</text>
<rect x="40.3" y="545.6" width="14.2" height="4.8" rx="0.6" fill="#b8d8f8" stroke="#333" stroke-width="0.9"/>
<text x="63.4" y="551.6" font-family='"Liberation Serif", serif' font-weight="bold" font-size="9.7" fill="#111" stroke="#111" stroke-width="0.2">Cluster 1</text>
<rect x="40.3" y="558.7" width="14.2" height="4.8" rx="0.6" fill="#ebe3cc" stroke="#333" stroke-width="0.9"/>
<text x="63.4" y="564.7" font-family='"Liberation Serif", serif' font-weight="bold" font-size="9.7" fill="#111" stroke="#111" stroke-width="0.2">Cluster 2</text>
<rect x="40.3" y="571.8" width="14.2" height="4.8" rx="0.6" fill="#a6de78" stroke="#333" stroke-width="0.9"/>
<text x="63.4" y="577.8" font-family='"Liberation Serif", serif' font-weight="bold" font-size="9.7" fill="#111" stroke="#111" stroke-width="0.2">Cluster 3</text>
<rect x="40.3" y="584.9" width="14.2" height="4.8" rx="0.6" fill="#ecccf4" stroke="#333" stroke-width="0.9"/>
<text x="63.4" y="590.9" font-family='"Liberation Serif", serif' font-weight="bold" font-size="9.7" fill="#111" stroke="#111" stroke-width="0.2">Cluster 4</text>
<rect x="40.3" y="597.8" width="14.2" height="4.8" rx="0.6" fill="#f8c290" stroke="#333" stroke-width="0.9"/>
<text x="63.4" y="603.8" font-family='"Liberation Serif", serif' font-weight="bold" font-size="9.7" fill="#111" stroke="#111" stroke-width="0.2">Cluster 5</text>
<rect x="121.8" y="545.6" width="14.2" height="4.8" rx="0.6" fill="#aeaef2" stroke="#333" stroke-width="0.9"/>
<text x="144.9" y="551.6" font-family='"Liberation Serif", serif' font-weight="bold" font-size="9.7" fill="#111" stroke="#111" stroke-width="0.2">Cluster 6</text>
<rect x="121.8" y="558.7" width="14.2" height="4.8" rx="0.6" fill="#7f7f7f" stroke="#333" stroke-width="0.9"/>
<text x="144.9" y="564.7" font-family='"Liberation Serif", serif' font-weight="bold" font-size="9.7" fill="#111" stroke="#111" stroke-width="0.2">Cluster 7</text>
<rect x="121.8" y="571.8" width="14.2" height="4.8" rx="0.6" fill="#d452f2" stroke="#333" stroke-width="0.9"/>
<text x="144.9" y="577.8" font-family='"Liberation Serif", serif' font-weight="bold" font-size="9.7" fill="#111" stroke="#111" stroke-width="0.2">Cluster 8</text>
<rect x="121.8" y="584.9" width="14.2" height="4.8" rx="0.6" fill="#ffff9c" stroke="#333" stroke-width="0.9"/>
<text x="144.9" y="590.9" font-family='"Liberation Serif", serif' font-weight="bold" font-size="9.7" fill="#111" stroke="#111" stroke-width="0.2">Cluster 9</text>
<rect x="254.9" y="392.3" width="8.8" height="69.8" fill="#f1b47f"/>
<rect x="268.24" y="402.06" width="8.8" height="60.04" fill="#f1b47f"/>
<rect x="281.58" y="437.17" width="8.8" height="24.93" fill="#f1b47f"/>
<rect x="294.92" y="387.06" width="8.8" height="75.04" fill="#f1b47f"/>
<rect x="308.26" y="411.82" width="8.8" height="50.28" fill="#f1b47f"/>
<rect x="321.6" y="406.84" width="8.8" height="55.26" fill="#f1b47f"/>
<rect x="334.94" y="442.36" width="8.8" height="19.74" fill="#f1b47f"/>
<rect x="348.28" y="442.36" width="8.8" height="19.74" fill="#f1b47f"/>
<rect x="361.62" y="422.21" width="8.8" height="39.89" fill="#f1b47f"/>
<path d="M250 379V462.1" stroke="#333" stroke-width="1.1" fill="none"/>
<path d="M246.4 462.1H250" stroke="#333" stroke-width="1.0"/>
<text x="246.3" y="464.4" text-anchor="end" font-family='"Liberation Serif", serif' font-weight="bold" font-size="6.8" fill="#222" stroke="#222" stroke-width="0.2">0</text>
<path d="M246.4 441.33H250" stroke="#333" stroke-width="1.0"/>
<text x="246.3" y="443.63" text-anchor="end" font-family='"Liberation Serif", serif' font-weight="bold" font-size="6.8" fill="#222" stroke="#222" stroke-width="0.2">5</text>
<path d="M246.4 420.55H250" stroke="#333" stroke-width="1.0"/>
<text x="246.3" y="422.85" text-anchor="end" font-family='"Liberation Serif", serif' font-weight="bold" font-size="6.8" fill="#222" stroke="#222" stroke-width="0.2">10</text>
<path d="M246.4 399.77H250" stroke="#333" stroke-width="1.0"/>
<text x="246.3" y="402.07" text-anchor="end" font-family='"Liberation Serif", serif' font-weight="bold" font-size="6.8" fill="#222" stroke="#222" stroke-width="0.2">15</text>
<path d="M246.4 379H250" stroke="#333" stroke-width="1.0"/>
<text x="246.3" y="381.3" text-anchor="end" font-family='"Liberation Serif", serif' font-weight="bold" font-size="6.8" fill="#222" stroke="#222" stroke-width="0.2">20</text>
<path d="M250 462.1H375.3" stroke="#333" stroke-width="1.1"/>
<path d="M259.3 462.1V464.7" stroke="#333" stroke-width="0.9"/>
<text transform="translate(261.3,471.1) rotate(-45)" text-anchor="end" font-family='"Liberation Serif", serif' font-weight="bold" font-size="6.5" fill="#222" stroke="#222" stroke-width="0.25">Cluster 1</text>
<path d="M272.64 462.1V464.7" stroke="#333" stroke-width="0.9"/>
<text transform="translate(274.64,471.1) rotate(-45)" text-anchor="end" font-family='"Liberation Serif", serif' font-weight="bold" font-size="6.5" fill="#222" stroke="#222" stroke-width="0.25">Cluster 2</text>
<path d="M285.98 462.1V464.7" stroke="#333" stroke-width="0.9"/>
<text transform="translate(287.98,471.1) rotate(-45)" text-anchor="end" font-family='"Liberation Serif", serif' font-weight="bold" font-size="6.5" fill="#222" stroke="#222" stroke-width="0.25">Cluster 3</text>
<path d="M299.32 462.1V464.7" stroke="#333" stroke-width="0.9"/>
<text transform="translate(301.32,471.1) rotate(-45)" text-anchor="end" font-family='"Liberation Serif", serif' font-weight="bold" font-size="6.5" fill="#222" stroke="#222" stroke-width="0.25">Cluster 4</text>
<path d="M312.66 462.1V464.7" stroke="#333" stroke-width="0.9"/>
<text transform="translate(314.66,471.1) rotate(-45)" text-anchor="end" font-family='"Liberation Serif", serif' font-weight="bold" font-size="6.5" fill="#222" stroke="#222" stroke-width="0.25">Cluster 5</text>
<path d="M326 462.1V464.7" stroke="#333" stroke-width="0.9"/>
<text transform="translate(328,471.1) rotate(-45)" text-anchor="end" font-family='"Liberation Serif", serif' font-weight="bold" font-size="6.5" fill="#222" stroke="#222" stroke-width="0.25">Cluster 6</text>
<path d="M339.34 462.1V464.7" stroke="#333" stroke-width="0.9"/>
<text transform="translate(341.34,471.1) rotate(-45)" text-anchor="end" font-family='"Liberation Serif", serif' font-weight="bold" font-size="6.5" fill="#222" stroke="#222" stroke-width="0.25">Cluster 7</text>
<path d="M352.68 462.1V464.7" stroke="#333" stroke-width="0.9"/>
<text transform="translate(354.68,471.1) rotate(-45)" text-anchor="end" font-family='"Liberation Serif", serif' font-weight="bold" font-size="6.5" fill="#222" stroke="#222" stroke-width="0.25">Cluster 8</text>
<path d="M366.02 462.1V464.7" stroke="#333" stroke-width="0.9"/>
<text transform="translate(368.02,471.1) rotate(-45)" text-anchor="end" font-family='"Liberation Serif", serif' font-weight="bold" font-size="6.5" fill="#222" stroke="#222" stroke-width="0.25">Cluster 9</text>
<text transform="translate(235.2,420.5) rotate(-90)" text-anchor="middle" font-family='"Liberation Serif", serif' font-weight="bold" font-size="7.2" fill="#222" stroke="#222" stroke-width="0.3">Percent of FA numbers (%)</text>
<rect x="255.1" y="380.7" width="9.2" height="4.4" fill="#f1b47f"/>
<text x="268.7" y="385.7" font-family='"Liberation Serif", serif' font-weight="bold" font-size="7.4" fill="#222" stroke="#222" stroke-width="0.2">FAs</text>
<rect x="425.35" y="441.08" width="8.8" height="21.02" fill="#f1b47f"/>
<rect x="438.84" y="444.09" width="8.8" height="18.01" fill="#f1b47f"/>
<rect x="452.33" y="398.72" width="8.8" height="63.38" fill="#f1b47f"/>
<rect x="465.82" y="441.42" width="8.8" height="20.68" fill="#f1b47f"/>
<rect x="479.31" y="417.06" width="8.8" height="45.04" fill="#f1b47f"/>
<rect x="492.8" y="397.38" width="8.8" height="64.72" fill="#f1b47f"/>
<rect x="506.29" y="411.39" width="8.8" height="50.71" fill="#f1b47f"/>
<rect x="519.78" y="427.07" width="8.8" height="35.03" fill="#f1b47f"/>
<rect x="533.27" y="448.76" width="8.8" height="13.34" fill="#f1b47f"/>
<path d="M420.4 378.7V462.1" stroke="#333" stroke-width="1.1" fill="none"/>
<path d="M416.8 462.1H420.4" stroke="#333" stroke-width="1.0"/>
<text x="416.7" y="464.4" text-anchor="end" font-family='"Liberation Serif", serif' font-weight="bold" font-size="6.8" fill="#222" stroke="#222" stroke-width="0.2">0</text>
<path d="M416.8 445.42H420.4" stroke="#333" stroke-width="1.0"/>
<text x="416.7" y="447.72" text-anchor="end" font-family='"Liberation Serif", serif' font-weight="bold" font-size="6.8" fill="#222" stroke="#222" stroke-width="0.2">5</text>
<path d="M416.8 428.74H420.4" stroke="#333" stroke-width="1.0"/>
<text x="416.7" y="431.04" text-anchor="end" font-family='"Liberation Serif", serif' font-weight="bold" font-size="6.8" fill="#222" stroke="#222" stroke-width="0.2">10</text>
<path d="M416.8 412.06H420.4" stroke="#333" stroke-width="1.0"/>
<text x="416.7" y="414.36" text-anchor="end" font-family='"Liberation Serif", serif' font-weight="bold" font-size="6.8" fill="#222" stroke="#222" stroke-width="0.2">15</text>
<path d="M416.8 395.38H420.4" stroke="#333" stroke-width="1.0"/>
<text x="416.7" y="397.68" text-anchor="end" font-family='"Liberation Serif", serif' font-weight="bold" font-size="6.8" fill="#222" stroke="#222" stroke-width="0.2">20</text>
<path d="M416.8 378.7H420.4" stroke="#333" stroke-width="1.0"/>
<text x="416.7" y="381" text-anchor="end" font-family='"Liberation Serif", serif' font-weight="bold" font-size="6.8" fill="#222" stroke="#222" stroke-width="0.2">25</text>
<path d="M420.4 462.1H546.3" stroke="#333" stroke-width="1.1"/>
<path d="M429.75 462.1V464.7" stroke="#333" stroke-width="0.9"/>
<text transform="translate(431.75,471.1) rotate(-45)" text-anchor="end" font-family='"Liberation Serif", serif' font-weight="bold" font-size="6.5" fill="#222" stroke="#222" stroke-width="0.25">Cluster 1</text>
<path d="M443.24 462.1V464.7" stroke="#333" stroke-width="0.9"/>
<text transform="translate(445.24,471.1) rotate(-45)" text-anchor="end" font-family='"Liberation Serif", serif' font-weight="bold" font-size="6.5" fill="#222" stroke="#222" stroke-width="0.25">Cluster 2</text>
<path d="M456.73 462.1V464.7" stroke="#333" stroke-width="0.9"/>
<text transform="translate(458.73,471.1) rotate(-45)" text-anchor="end" font-family='"Liberation Serif", serif' font-weight="bold" font-size="6.5" fill="#222" stroke="#222" stroke-width="0.25">Cluster 3</text>
<path d="M470.22 462.1V464.7" stroke="#333" stroke-width="0.9"/>
<text transform="translate(472.22,471.1) rotate(-45)" text-anchor="end" font-family='"Liberation Serif", serif' font-weight="bold" font-size="6.5" fill="#222" stroke="#222" stroke-width="0.25">Cluster 4</text>
<path d="M483.71 462.1V464.7" stroke="#333" stroke-width="0.9"/>
<text transform="translate(485.71,471.1) rotate(-45)" text-anchor="end" font-family='"Liberation Serif", serif' font-weight="bold" font-size="6.5" fill="#222" stroke="#222" stroke-width="0.25">Cluster 5</text>
<path d="M497.2 462.1V464.7" stroke="#333" stroke-width="0.9"/>
<text transform="translate(499.2,471.1) rotate(-45)" text-anchor="end" font-family='"Liberation Serif", serif' font-weight="bold" font-size="6.5" fill="#222" stroke="#222" stroke-width="0.25">Cluster 6</text>
<path d="M510.69 462.1V464.7" stroke="#333" stroke-width="0.9"/>
<text transform="translate(512.69,471.1) rotate(-45)" text-anchor="end" font-family='"Liberation Serif", serif' font-weight="bold" font-size="6.5" fill="#222" stroke="#222" stroke-width="0.25">Cluster 7</text>
<path d="M524.18 462.1V464.7" stroke="#333" stroke-width="0.9"/>
<text transform="translate(526.18,471.1) rotate(-45)" text-anchor="end" font-family='"Liberation Serif", serif' font-weight="bold" font-size="6.5" fill="#222" stroke="#222" stroke-width="0.25">Cluster 8</text>
<path d="M537.67 462.1V464.7" stroke="#333" stroke-width="0.9"/>
<text transform="translate(539.67,471.1) rotate(-45)" text-anchor="end" font-family='"Liberation Serif", serif' font-weight="bold" font-size="6.5" fill="#222" stroke="#222" stroke-width="0.25">Cluster 9</text>
<text transform="translate(405.6,420.2) rotate(-90)" text-anchor="middle" font-family='"Liberation Serif", serif' font-weight="bold" font-size="7.2" fill="#222" stroke="#222" stroke-width="0.3">Percent of GL numbers (%)</text>
<rect x="425.2" y="379" width="9.2" height="4.4" fill="#f1b47f"/>
<text x="438.8" y="384" font-family='"Liberation Serif", serif' font-weight="bold" font-size="7.4" fill="#222" stroke="#222" stroke-width="0.2">GLs</text>
<rect x="254.05" y="560" width="8.8" height="28.7" fill="#f1b47f"/>
<rect x="267.57" y="540.76" width="8.8" height="47.94" fill="#f1b47f"/>
<rect x="281.09" y="567.43" width="8.8" height="21.27" fill="#f1b47f"/>
<rect x="294.61" y="522.19" width="8.8" height="66.51" fill="#f1b47f"/>
<rect x="308.13" y="531.98" width="8.8" height="56.72" fill="#f1b47f"/>
<rect x="321.65" y="560.68" width="8.8" height="28.02" fill="#f1b47f"/>
<rect x="335.17" y="574.86" width="8.8" height="13.84" fill="#f1b47f"/>
<rect x="348.69" y="569.79" width="8.8" height="18.91" fill="#f1b47f"/>
<rect x="362.21" y="538.06" width="8.8" height="50.64" fill="#f1b47f"/>
<path d="M249.2 504.3V588.7" stroke="#333" stroke-width="1.1" fill="none"/>
<path d="M245.6 588.7H249.2" stroke="#333" stroke-width="1.0"/>
<text x="245.5" y="591" text-anchor="end" font-family='"Liberation Serif", serif' font-weight="bold" font-size="6.8" fill="#222" stroke="#222" stroke-width="0.2">0</text>
<path d="M245.6 571.82H249.2" stroke="#333" stroke-width="1.0"/>
<text x="245.5" y="574.12" text-anchor="end" font-family='"Liberation Serif", serif' font-weight="bold" font-size="6.8" fill="#222" stroke="#222" stroke-width="0.2">5</text>
<path d="M245.6 554.94H249.2" stroke="#333" stroke-width="1.0"/>
<text x="245.5" y="557.24" text-anchor="end" font-family='"Liberation Serif", serif' font-weight="bold" font-size="6.8" fill="#222" stroke="#222" stroke-width="0.2">10</text>
<path d="M245.6 538.06H249.2" stroke="#333" stroke-width="1.0"/>
<text x="245.5" y="540.36" text-anchor="end" font-family='"Liberation Serif", serif' font-weight="bold" font-size="6.8" fill="#222" stroke="#222" stroke-width="0.2">15</text>
<path d="M245.6 521.18H249.2" stroke="#333" stroke-width="1.0"/>
<text x="245.5" y="523.48" text-anchor="end" font-family='"Liberation Serif", serif' font-weight="bold" font-size="6.8" fill="#222" stroke="#222" stroke-width="0.2">20</text>
<path d="M245.6 504.3H249.2" stroke="#333" stroke-width="1.0"/>
<text x="245.5" y="506.6" text-anchor="end" font-family='"Liberation Serif", serif' font-weight="bold" font-size="6.8" fill="#222" stroke="#222" stroke-width="0.2">25</text>
<path d="M249.2 588.7H375.3" stroke="#333" stroke-width="1.1"/>
<path d="M258.45 588.7V591.3" stroke="#333" stroke-width="0.9"/>
<text transform="translate(260.45,597.7) rotate(-45)" text-anchor="end" font-family='"Liberation Serif", serif' font-weight="bold" font-size="6.5" fill="#222" stroke="#222" stroke-width="0.25">Cluster 1</text>
<path d="M271.97 588.7V591.3" stroke="#333" stroke-width="0.9"/>
<text transform="translate(273.97,597.7) rotate(-45)" text-anchor="end" font-family='"Liberation Serif", serif' font-weight="bold" font-size="6.5" fill="#222" stroke="#222" stroke-width="0.25">Cluster 2</text>
<path d="M285.49 588.7V591.3" stroke="#333" stroke-width="0.9"/>
<text transform="translate(287.49,597.7) rotate(-45)" text-anchor="end" font-family='"Liberation Serif", serif' font-weight="bold" font-size="6.5" fill="#222" stroke="#222" stroke-width="0.25">Cluster 3</text>
<path d="M299.01 588.7V591.3" stroke="#333" stroke-width="0.9"/>
<text transform="translate(301.01,597.7) rotate(-45)" text-anchor="end" font-family='"Liberation Serif", serif' font-weight="bold" font-size="6.5" fill="#222" stroke="#222" stroke-width="0.25">Cluster 4</text>
<path d="M312.53 588.7V591.3" stroke="#333" stroke-width="0.9"/>
<text transform="translate(314.53,597.7) rotate(-45)" text-anchor="end" font-family='"Liberation Serif", serif' font-weight="bold" font-size="6.5" fill="#222" stroke="#222" stroke-width="0.25">Cluster 5</text>
<path d="M326.05 588.7V591.3" stroke="#333" stroke-width="0.9"/>
<text transform="translate(328.05,597.7) rotate(-45)" text-anchor="end" font-family='"Liberation Serif", serif' font-weight="bold" font-size="6.5" fill="#222" stroke="#222" stroke-width="0.25">Cluster 6</text>
<path d="M339.57 588.7V591.3" stroke="#333" stroke-width="0.9"/>
<text transform="translate(341.57,597.7) rotate(-45)" text-anchor="end" font-family='"Liberation Serif", serif' font-weight="bold" font-size="6.5" fill="#222" stroke="#222" stroke-width="0.25">Cluster 7</text>
<path d="M353.09 588.7V591.3" stroke="#333" stroke-width="0.9"/>
<text transform="translate(355.09,597.7) rotate(-45)" text-anchor="end" font-family='"Liberation Serif", serif' font-weight="bold" font-size="6.5" fill="#222" stroke="#222" stroke-width="0.25">Cluster 8</text>
<path d="M366.61 588.7V591.3" stroke="#333" stroke-width="0.9"/>
<text transform="translate(368.61,597.7) rotate(-45)" text-anchor="end" font-family='"Liberation Serif", serif' font-weight="bold" font-size="6.5" fill="#222" stroke="#222" stroke-width="0.25">Cluster 9</text>
<text transform="translate(234.4,546.5) rotate(-90)" text-anchor="middle" font-family='"Liberation Serif", serif' font-weight="bold" font-size="7.2" fill="#222" stroke="#222" stroke-width="0.3">Percent of GP numbers (%)</text>
<rect x="254.1" y="505.4" width="9.2" height="4.4" fill="#f1b47f"/>
<text x="267.7" y="510.4" font-family='"Liberation Serif", serif' font-weight="bold" font-size="7.4" fill="#222" stroke="#222" stroke-width="0.2">GPs</text>
<rect x="424.75" y="571.94" width="8.8" height="16.56" fill="#f1b47f"/>
<rect x="438.29" y="573.62" width="8.8" height="14.88" fill="#f1b47f"/>
<rect x="451.83" y="562.96" width="8.8" height="25.54" fill="#f1b47f"/>
<rect x="465.37" y="568.29" width="8.8" height="20.21" fill="#f1b47f"/>
<rect x="478.91" y="529" width="8.8" height="59.5" fill="#f1b47f"/>
<rect x="492.45" y="512.72" width="8.8" height="75.78" fill="#f1b47f"/>
<rect x="505.99" y="575.59" width="8.8" height="12.91" fill="#f1b47f"/>
<rect x="519.53" y="566.89" width="8.8" height="21.61" fill="#f1b47f"/>
<rect x="533.07" y="559.03" width="8.8" height="29.47" fill="#f1b47f"/>
<path d="M419.2 504.3V588.5" stroke="#333" stroke-width="1.1" fill="none"/>
<path d="M415.6 588.5H419.2" stroke="#333" stroke-width="1.0"/>
<text x="415.5" y="590.8" text-anchor="end" font-family='"Liberation Serif", serif' font-weight="bold" font-size="6.8" fill="#222" stroke="#222" stroke-width="0.2">0</text>
<path d="M415.6 560.43H419.2" stroke="#333" stroke-width="1.0"/>
<text x="415.5" y="562.73" text-anchor="end" font-family='"Liberation Serif", serif' font-weight="bold" font-size="6.8" fill="#222" stroke="#222" stroke-width="0.2">10</text>
<path d="M415.6 532.37H419.2" stroke="#333" stroke-width="1.0"/>
<text x="415.5" y="534.67" text-anchor="end" font-family='"Liberation Serif", serif' font-weight="bold" font-size="6.8" fill="#222" stroke="#222" stroke-width="0.2">20</text>
<path d="M415.6 504.3H419.2" stroke="#333" stroke-width="1.0"/>
<text x="415.5" y="506.6" text-anchor="end" font-family='"Liberation Serif", serif' font-weight="bold" font-size="6.8" fill="#222" stroke="#222" stroke-width="0.2">30</text>
<path d="M419.2 588.5H546.3" stroke="#333" stroke-width="1.1"/>
<path d="M429.15 588.5V591.1" stroke="#333" stroke-width="0.9"/>
<text transform="translate(431.15,597.5) rotate(-45)" text-anchor="end" font-family='"Liberation Serif", serif' font-weight="bold" font-size="6.5" fill="#222" stroke="#222" stroke-width="0.25">Cluster 1</text>
<path d="M442.69 588.5V591.1" stroke="#333" stroke-width="0.9"/>
<text transform="translate(444.69,597.5) rotate(-45)" text-anchor="end" font-family='"Liberation Serif", serif' font-weight="bold" font-size="6.5" fill="#222" stroke="#222" stroke-width="0.25">Cluster 2</text>
<path d="M456.23 588.5V591.1" stroke="#333" stroke-width="0.9"/>
<text transform="translate(458.23,597.5) rotate(-45)" text-anchor="end" font-family='"Liberation Serif", serif' font-weight="bold" font-size="6.5" fill="#222" stroke="#222" stroke-width="0.25">Cluster 3</text>
<path d="M469.77 588.5V591.1" stroke="#333" stroke-width="0.9"/>
<text transform="translate(471.77,597.5) rotate(-45)" text-anchor="end" font-family='"Liberation Serif", serif' font-weight="bold" font-size="6.5" fill="#222" stroke="#222" stroke-width="0.25">Cluster 4</text>
<path d="M483.31 588.5V591.1" stroke="#333" stroke-width="0.9"/>
<text transform="translate(485.31,597.5) rotate(-45)" text-anchor="end" font-family='"Liberation Serif", serif' font-weight="bold" font-size="6.5" fill="#222" stroke="#222" stroke-width="0.25">Cluster 5</text>
<path d="M496.85 588.5V591.1" stroke="#333" stroke-width="0.9"/>
<text transform="translate(498.85,597.5) rotate(-45)" text-anchor="end" font-family='"Liberation Serif", serif' font-weight="bold" font-size="6.5" fill="#222" stroke="#222" stroke-width="0.25">Cluster 6</text>
<path d="M510.39 588.5V591.1" stroke="#333" stroke-width="0.9"/>
<text transform="translate(512.39,597.5) rotate(-45)" text-anchor="end" font-family='"Liberation Serif", serif' font-weight="bold" font-size="6.5" fill="#222" stroke="#222" stroke-width="0.25">Cluster 7</text>
<path d="M523.93 588.5V591.1" stroke="#333" stroke-width="0.9"/>
<text transform="translate(525.93,597.5) rotate(-45)" text-anchor="end" font-family='"Liberation Serif", serif' font-weight="bold" font-size="6.5" fill="#222" stroke="#222" stroke-width="0.25">Cluster 8</text>
<path d="M537.47 588.5V591.1" stroke="#333" stroke-width="0.9"/>
<text transform="translate(539.47,597.5) rotate(-45)" text-anchor="end" font-family='"Liberation Serif", serif' font-weight="bold" font-size="6.5" fill="#222" stroke="#222" stroke-width="0.25">Cluster 9</text>
<text transform="translate(404.4,546.4) rotate(-90)" text-anchor="middle" font-family='"Liberation Serif", serif' font-weight="bold" font-size="7.2" fill="#222" stroke="#222" stroke-width="0.3">Percent of SP numbers (%)</text>
<rect x="425" y="505.4" width="9.2" height="4.4" fill="#f1b47f"/>
<text x="438.6" y="510.4" font-family='"Liberation Serif", serif' font-weight="bold" font-size="7.4" fill="#222" stroke="#222" stroke-width="0.2">SPs</text>
</svg>
</body></html>
